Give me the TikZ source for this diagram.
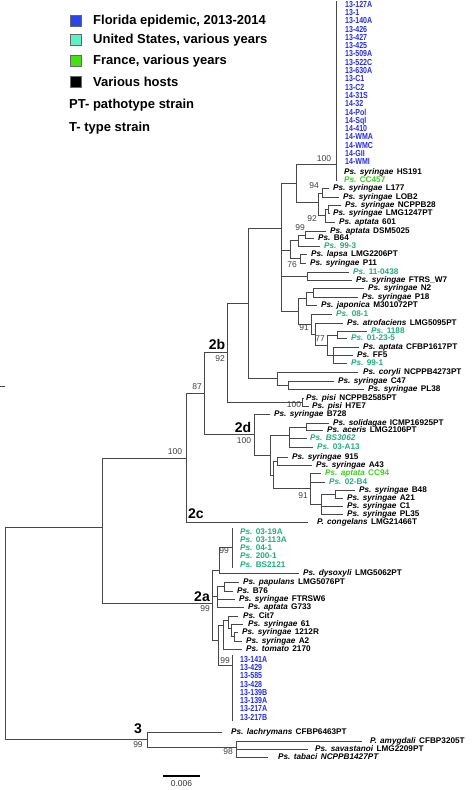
\documentclass[tikz,border=0pt]{standalone}
\usepackage{fontspec}
\setmainfont{Liberation Sans}
\newfontfamily\narrowfont[FakeStretch=0.8]{Liberation Sans}
\definecolor{flblue}{RGB}{38,46,226}
\definecolor{flbox}{RGB}{40,70,235}
\definecolor{usteal}{RGB}{32,172,128}
\definecolor{usbox}{RGB}{95,238,198}
\definecolor{frgreen}{RGB}{62,205,28}
\definecolor{frbox}{RGB}{70,225,20}
\newcommand\wsp{\hspace{0.4em}}
\newcommand\ps[2]{\textit{Ps.}\wsp\textit{#1}\wsp#2}
\newcommand\pso[1]{\textit{Ps.}\wsp#1}
\tikzset{
  br/.style={draw=black!72, line width=0.75pt},
  leaf/.style={anchor=west, inner sep=0pt, text height=5.8pt, text depth=1.6pt,
    font=\fontsize{8.2}{8.2}\selectfont\bfseries},
  flo/.style={leaf, text=flblue, font=\narrowfont\fontsize{8.8}{8.8}\selectfont\bfseries},
  usa/.style={leaf, text=usteal},
  fra/.style={leaf, text=frgreen},
  boot/.style={inner sep=0pt, text=black!75, font=\fontsize{8.5}{8.5}\selectfont},
  grp/.style={inner sep=0pt, font=\fontsize{14}{14}\selectfont\bfseries},
  keybox/.style={draw=black!60, line width=0.4pt, minimum size=11pt, inner sep=0pt},
  keytxt/.style={anchor=west, inner sep=0pt, font=\fontsize{13}{13}\selectfont\bfseries},
}
\begin{document}
\begin{tikzpicture}[x=1pt,y=-1pt]
\useasboundingbox (0,0) rectangle (474,790);

% legend
\node[keybox, fill=flbox] (k1) at (75.5,21) {};
\node[keybox, fill=usbox] (k2) at (75.5,40) {};
\node[keybox, fill=frbox] (k3) at (75.5,61) {};
\node[keybox, fill=black] (k4) at (75.5,82) {};
\node[keytxt] (t1) at (93,21) {Florida epidemic, 2013-2014};
\node[keytxt] (t2) at (93,40) {United States, various years};
\node[keytxt] (t3) at (93,61) {France, various years};
\node[keytxt] (t4) at (93,82) {Various hosts};
\node[keytxt] (t5) at (69,105) {PT- pathotype strain};
\node[keytxt] (t6) at (69,128) {T- type strain};

% root and deep nodes
\draw[br] (0,386) -- (5,386);
\draw[br] (5,527) -- (5,739) (5,527) -- (102,527) (5,739) -- (147,739);
\draw[br] (102,458) -- (102,603) (102,458) -- (186,458) (102,603) -- (212,603);
\draw[br] (186,393) -- (186,522) (186,393) -- (204,393) (186,522) -- (308,522);
\draw[br] (204,352) -- (204,434) (204,352) -- (227,352) (204,434) -- (254,434);
\draw[br] (227,303) -- (227,402) (227,303) -- (248,303) (227,402) -- (302,402);
\draw[br] (302,398) -- (302,406) (302,398) -- (304,398) (302,406) -- (309,406);
\draw[br] (248,228) -- (248,378) (248,228) -- (281,228) (248,378) -- (277,378);
\draw[br] (277,372) -- (277,385) (277,372) -- (358,372) (277,385) -- (288,385);
\draw[br] (288,381) -- (288,389) (288,381) -- (334,381) (288,389) -- (364,389);
\draw[br] (281,183) -- (281,311) (281,183) -- (296,183) (281,250) -- (290,250)
          (281,276) -- (307,276) (281,311) -- (298,311);

% Florida epidemic clade and neighbours
\draw[br] (296,164) -- (296,202) (296,164) -- (336,164) (296,202) -- (318,202);
\draw[br] (336,1) -- (336,181);
\draw[br] (318,193) -- (318,215) (318,193) -- (322,193) (318,215) -- (325,215);
\draw[br] (322,188) -- (322,197) (322,188) -- (329,188) (322,197) -- (339,197);
\draw[br] (325,209) -- (325,222) (325,209) -- (328,209) (325,222) -- (335,222);
\draw[br] (328,205) -- (328,213) (328,205) -- (341,205) (328,213) -- (330,213);
\draw[br] (290,240) -- (290,258) (290,240) -- (298,240) (290,258) -- (300,258);
\draw[br] (298,235) -- (298,246) (298,235) -- (305,235) (298,246) -- (320,246);
\draw[br] (305,231) -- (305,238) (305,231) -- (326,231) (305,238) -- (314,238);
\draw[br] (300,254) -- (300,263) (300,254) -- (307,254) (300,263) -- (306,263);
\draw[br] (307,272) -- (307,280) (307,272) -- (349,272) (307,280) -- (352,280);
\draw[br] (298,298) -- (298,324) (298,298) -- (306,298) (298,324) -- (311,324);
\draw[br] (306,292) -- (306,305) (306,292) -- (313,292) (306,305) -- (317,305);
\draw[br] (313,288) -- (313,297) (313,288) -- (364,288) (313,297) -- (358,297);
\draw[br] (311,314) -- (311,334) (311,314) -- (332,314) (311,334) -- (315,334);
\draw[br] (315,323) -- (315,345) (315,323) -- (343,323) (315,345) -- (327,345);
\draw[br] (327,335) -- (327,355) (327,335) -- (337,335) (327,355) -- (333,355);
\draw[br] (337,331) -- (337,338) (337,331) -- (367,331) (337,338) -- (347,338);
\draw[br] (333,347) -- (333,363) (333,347) -- (359,347) (333,355) -- (353,355) (333,363) -- (347,363);

% 2d
\draw[br] (254,414) -- (254,455) (254,414) -- (270,414) (254,455) -- (270,455);
\draw[br] (270,435) -- (270,475) (270,435) -- (289,435) (270,475) -- (273,475);
\draw[br] (289,427) -- (289,447) (289,427) -- (306,427) (289,438) -- (307,438) (289,447) -- (313,447);
\draw[br] (306,423) -- (306,430) (306,423) -- (329,423) (306,430) -- (323,430);
\draw[br] (273,461) -- (273,488) (273,461) -- (277,461) (273,488) -- (310,488);
\draw[br] (277,457) -- (277,465) (277,457) -- (288,457) (277,465) -- (312,465);
\draw[br] (310,473) -- (310,504) (310,473) -- (321,473) (310,482) -- (325,482) (310,504) -- (321,504);
\draw[br] (321,494) -- (321,514) (321,494) -- (335,494) (321,506) -- (343,506) (321,514) -- (343,514);
\draw[br] (335,490) -- (335,498) (335,490) -- (355,490) (335,498) -- (343,498);

% 2a
\draw[br] (212,570) -- (212,640) (212,570) -- (219,570) (212,596) -- (217,596) (212,640) -- (218,640);
\draw[br] (219,547) -- (219,573) (219,547) -- (232,547) (219,573) -- (299,573);
\draw[br] (232,528) -- (232,568);
\draw[br] (217,586) -- (217,607) (217,586) -- (224,586) (217,599) -- (235,599) (217,607) -- (244,607);
\draw[br] (224,582) -- (224,591) (224,582) -- (239,582) (224,591) -- (233,591);
\draw[br] (218,625) -- (218,665) (218,625) -- (223,625) (218,665) -- (232,665);
\draw[br] (223,620) -- (223,649) (223,620) -- (228,620) (223,649) -- (242,649);
\draw[br] (228,616) -- (228,628) (228,616) -- (238,616) (228,628) -- (231,628);
\draw[br] (231,624) -- (231,636) (231,624) -- (243,624) (231,636) -- (234,636);
\draw[br] (234,632) -- (234,641) (234,632) -- (238,632) (234,641) -- (242,641);
\draw[br] (232,655) -- (232,721);

% 3
\draw[br] (147,732) -- (147,747) (147,732) -- (222,732) (147,747) -- (236,747);
\draw[br] (236,741) -- (236,757) (236,741) -- (362,741) (236,749) -- (308,749) (236,757) -- (268,757);

% leaves
\foreach \lbl [count=\i from 0] in {13-127A,13-1,13-140A,13-426,13-427,13-425,13-509A,
  13-522C,13-630A,13-C1,13-C2,14-31S,14-32,14-Pol,14-Sql,14-410,14-WMA,14-WMC,14-GII,14-WMI}
  \node[flo] (fa\i) at (345,{5+8.3*\i}) {\lbl};
\node[leaf] (hs191) at (344,172) {\ps{syringae}{HS191}};
\node[fra] (cc457) at (344,180) {\pso{CC457}};
\node[leaf] (l177) at (333,188) {\ps{syringae}{L177}};
\node[leaf] (lob2) at (343,197) {\ps{syringae}{LOB2}};
\node[leaf] (ncppb28) at (345,205) {\ps{syringae}{NCPPB28}};
\node[leaf] (lmg1247) at (333,213) {\ps{syringae}{LMG1247PT}};
\node[leaf] (apt601) at (339,222) {\ps{aptata}{601}};
\node[leaf] (dsm5025) at (330,231) {\ps{aptata}{DSM5025}};
\node[leaf] (b64) at (318,238) {\pso{B64}};
\node[usa] (us993) at (324,246) {\pso{99-3}};
\node[leaf] (lapsa) at (311,254) {\ps{lapsa}{LMG2206PT}};
\node[leaf] (p11) at (310,263) {\ps{syringae}{P11}};
\node[usa] (us0438) at (353,272) {\pso{11-0438}};
\node[leaf] (ftrsw7) at (356,280) {\ps{syringae}{FTRS\_W7}};
\node[leaf] (n2) at (368,288) {\ps{syringae}{N2}};
\node[leaf] (p18) at (362,297) {\ps{syringae}{P18}};
\node[leaf] (japon) at (321,305) {\ps{japonica}{M301072PT}};
\node[usa] (us081) at (336,314) {\pso{08-1}};
\node[leaf] (atro) at (347,323) {\ps{atrofaciens}{LMG5095PT}};
\node[usa] (us1188) at (371,331) {\pso{1188}};
\node[usa] (us01235) at (351,338) {\pso{01-23-5}};
\node[leaf] (cfbp1617) at (363,347) {\ps{aptata}{CFBP1617PT}};
\node[leaf] (ff5) at (357,355) {\pso{FF5}};
\node[usa] (us991) at (351,363) {\pso{99-1}};
\node[leaf] (coryli) at (363,372) {\ps{coryli}{NCPPB4273PT}};
\node[leaf] (c47) at (338,381) {\ps{syringae}{C47}};
\node[leaf] (pl38) at (368,389) {\ps{syringae}{PL38}};
\node[leaf] (pisi1) at (306,398) {\ps{pisi}{NCPPB2585PT}};
\node[leaf] (pisi2) at (312,406) {\ps{pisi}{H7E7}};
\node[leaf] (b728) at (274,414) {\ps{syringae}{B728}};
\node[leaf] (solid) at (333,423) {\ps{solidagae}{ICMP16925PT}};
\node[leaf] (aceris) at (327,430) {\ps{aceris}{LMG2106PT}};
\node[usa] (bs3062) at (310,438) {\textit{Ps.}\wsp\textit{BS3062}};
\node[usa] (us03a13) at (317,447) {\pso{03-A13}};
\node[leaf] (s915) at (292,457) {\ps{syringae}{915}};
\node[leaf] (a43) at (316,465) {\ps{syringae}{A43}};
\node[fra] (cc94) at (325,473) {\ps{aptata}{CC94}};
\node[usa] (us02b4) at (329,482) {\pso{02-B4}};
\node[leaf] (b48) at (359,490) {\ps{syringae}{B48}};
\node[leaf] (a21) at (347,498) {\ps{syringae}{A21}};
\node[leaf] (c1) at (347,506) {\ps{syringae}{C1}};
\node[leaf] (pl35) at (347,514) {\ps{syringae}{PL35}};
\node[leaf] (congel) at (317,522) {\textit{P.}\wsp\textit{congelans}\wsp LMG21466T};
\foreach \lbl [count=\i from 0] in {03-19A,03-113A,04-1,200-1,BS2121}
  \node[usa] (us\i) at (240,{532+8.25*\i}) {\pso{\lbl}};
\node[leaf] (dysox) at (303,573) {\ps{dysoxyli}{LMG5062PT}};
\node[leaf] (papul) at (243,582) {\ps{papulans}{LMG5076PT}};
\node[leaf] (b76) at (237,591) {\pso{B76}};
\node[leaf] (ftrsw6) at (239,599) {\ps{syringae}{FTRSW6}};
\node[leaf] (g733) at (248,607) {\ps{aptata}{G733}};
\node[leaf] (cit7) at (243,616) {\pso{Cit7}};
\node[leaf] (s61) at (248,624) {\ps{syringae}{61}};
\node[leaf] (r1212) at (242,632) {\ps{syringae}{1212R}};
\node[leaf] (a2) at (246,641) {\ps{syringae}{A2}};
\node[leaf] (tomato) at (246,649) {\ps{tomato}{2170}};
\foreach \lbl [count=\i from 0] in {13-141A,13-429,13-585,13-428,13-139B,13-139A,13-217A,13-217B}
  \node[flo] (fb\i) at (240,{660+8.3*\i}) {\lbl};
\node[leaf] (lachry) at (231,732) {\ps{lachrymans}{CFBP6463PT}};
\node[leaf] (amyg) at (370,741) {\textit{P.}\wsp\textit{amygdali}\wsp CFBP3205T};
\node[leaf] (savast) at (315,749) {\ps{savastanoi}{LMG2209PT}};
\node[leaf] (tabaci) at (278,757) {\textit{Ps.}\wsp\textit{tabaci}\wsp\textit{NCPPB1427PT}};

% bootstrap values and groups
\node[boot] (bs100a) at (324,159) {100};
\node[boot] (bs94) at (314,186) {94};
\node[boot] (bs92a) at (312,219) {92};
\node[boot] (bs99a) at (300,228) {99};
\node[boot] (bs76) at (292,265) {76};
\node[boot] (bs91a) at (304,328) {91};
\node[boot] (bs77) at (320,339) {77};
\node[boot] (bs100b) at (294,405) {100};
\node[boot] (bs100c) at (244,441) {100};
\node[boot] (bs92b) at (220,359) {92};
\node[boot] (bs87) at (197,387) {87};
\node[boot] (bs100d) at (175,452) {100};
\node[boot] (bs91b) at (303,496) {91};
\node[boot] (bs99b) at (224,551) {99};
\node[boot] (bs99c) at (205,609) {99};
\node[boot] (bs99d) at (225,661) {99};
\node[boot] (bs99e) at (138,745) {99};
\node[boot] (bs98) at (228,752) {98};
\node[grp] (g2b) at (217,344) {2b};
\node[grp] (g2d) at (243,427) {2d};
\node[grp] (g2c) at (196,514) {2c};
\node[grp] (g2a) at (202,597) {2a};
\node[grp] (g3) at (138,729) {3};

% scale bar
\coordinate (s0) at (163,776);
\coordinate (s1) at (200,776);
\draw[draw=black, line width=1.8pt] (s0) -- (s1);
\node[boot, text=black!80] (scl) at (181.5,784) {0.006};
\end{tikzpicture}
\end{document}
